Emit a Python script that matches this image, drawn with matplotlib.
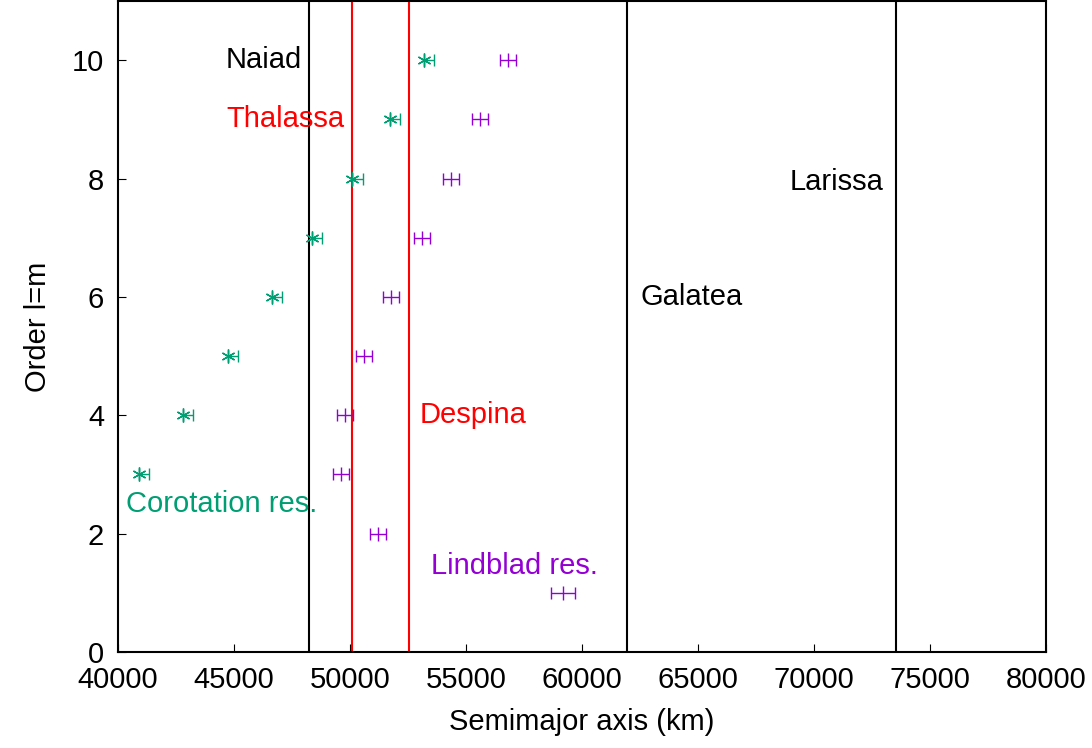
import matplotlib
matplotlib.use('Agg')
import matplotlib.pyplot as plt

plt.rcParams['font.family'] = ['Liberation Sans', 'DejaVu Sans']

# corotation resonances (green), order l=m
co_order = [3, 4, 5, 6, 7, 8, 9, 10]
co_a = [40900, 42800, 44740, 46640, 48360, 50090, 51720, 53190]
co_err = [450, 450, 450, 450, 450, 450, 450, 450]

# Lindblad resonances (purple)
lb_order = [1, 2, 3, 4, 5, 6, 7, 8, 9, 10]
lb_a = [59180, 51210, 49610, 49780, 50600, 51770, 53100, 54350, 55600, 56810]
lb_err = [500, 330, 330, 330, 330, 330, 330, 330, 330, 330]

moons = ['Naiad', 'Thalassa', 'Despina', 'Galatea', 'Larissa']
moon_a = [48227, 50074, 52526, 61953, 73548]
moon_col = ['black', 'red', 'red', 'black', 'black']
label_pos = [(44650, 10), (44650, 9), (53000, 4), (62500, 6), (68970, 7.95)]

green = '#009e73'
purple = '#9400d3'
fs = 21

fig = plt.figure(figsize=(10.92, 7.48), dpi=100)
ax = fig.add_axes([118/1092, 96/748, 928/1092, 651/748])

for a, c in zip(moon_a, moon_col):
    ax.axvline(a, color=c, lw=1.5)
for name, c, (x, y) in zip(moons, moon_col, label_pos):
    ax.text(x, y, name, color=c, fontsize=fs, va='center')

ax.errorbar(co_a, co_order, xerr=[[0]*len(co_err), co_err], fmt='none',
            ecolor=green, elinewidth=1, capsize=4)
ax.plot(co_a, co_order, ls='none', marker=(6, 2, 0), color=green, ms=10, mew=1)
ax.errorbar(lb_a, lb_order, xerr=lb_err, fmt='none', ecolor=purple,
            elinewidth=1, capsize=4)
ax.plot(lb_a, lb_order, ls='none', marker='|', color=purple, ms=10, mew=1)

ax.text(40350, 2.5, 'Corotation res.', color=green, fontsize=fs, va='center')
ax.text(53500, 1.45, 'Lindblad res.', color=purple, fontsize=fs, va='center')

ax.set_xlim(40000, 80000)
ax.set_ylim(0, 11)
ax.set_xticks(range(40000, 80001, 5000))
ax.set_yticks(range(0, 11, 2))
ax.tick_params(labelsize=fs, direction='in', length=6, pad=10, top=False, right=False)
for s in ax.spines.values():
    s.set_linewidth(1.5)
ax.set_xlabel('Semimajor axis (km)', fontsize=fs, labelpad=10)
ax.set_ylabel('Order l=m', fontsize=fs, labelpad=14)

fig.savefig('out.png')
